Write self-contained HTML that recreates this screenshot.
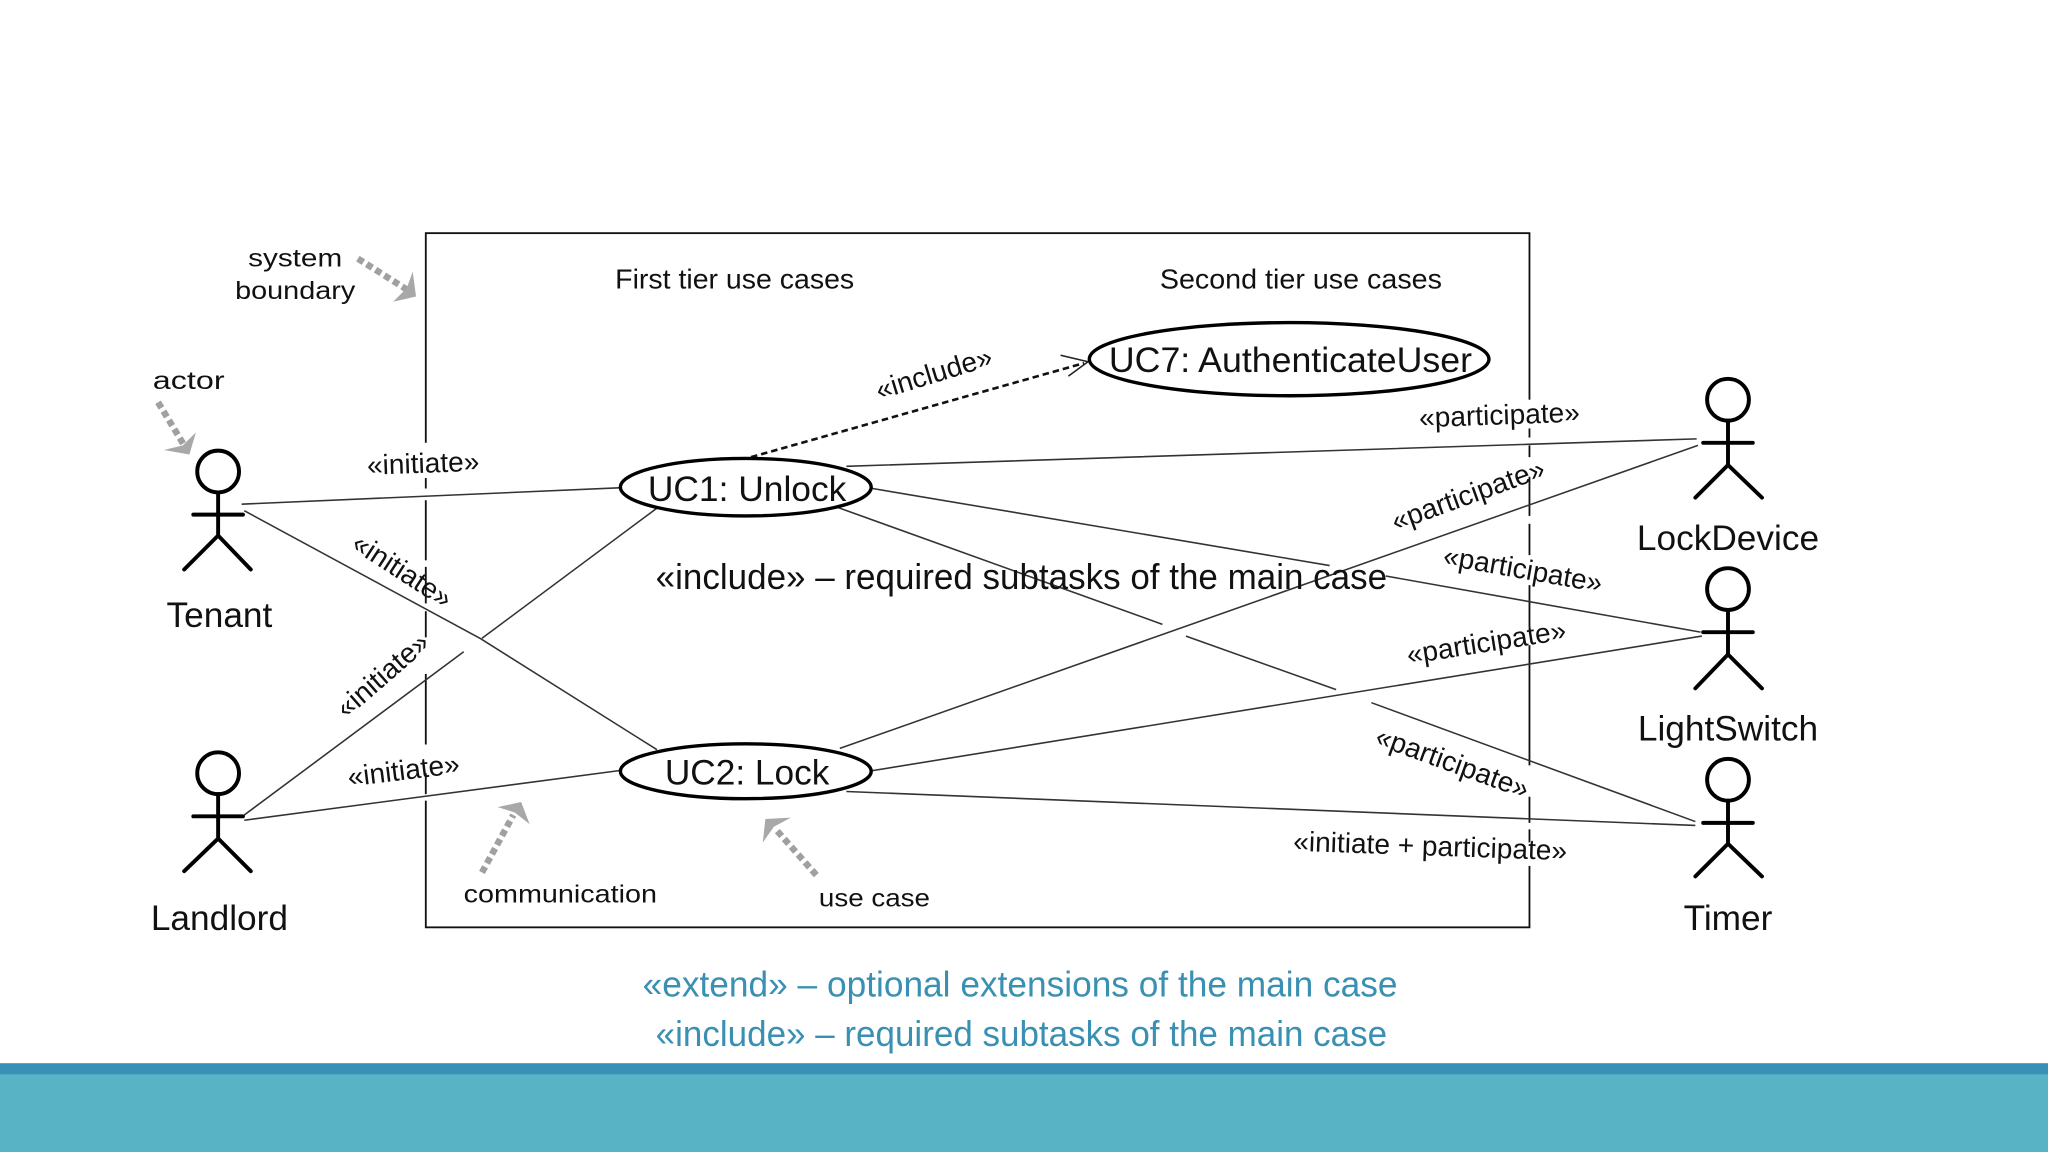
<!DOCTYPE html>
<html><head><meta charset="utf-8"><style>
html,body{margin:0;padding:0;background:#fff;width:2048px;height:1152px;overflow:hidden}
svg{display:block}
text{font-family:"Liberation Sans",sans-serif;fill:#111}
.c{font-family:"DejaVu Sans",sans-serif;font-size:19px;fill:#111}
.l{stroke:#333;stroke-width:1.2;fill:none}
.a{stroke:#000;stroke-width:3;fill:none;stroke-linecap:round}
.n{font-size:27px;text-anchor:middle}
.s{font-size:21.500px}
.g{stroke:#a0a0a0;stroke-width:5;stroke-dasharray:5 3;fill:none}
.h{fill:#a8a8a8;stroke:none}
</style></head><body>
<svg width="2048" height="1152" viewBox="0 0 1568 882" xmlns="http://www.w3.org/2000/svg">
<rect width="1568" height="882" fill="#fff"/>
<rect x="326" y="178.500" width="845" height="531.500" fill="none" stroke="#111" stroke-width="1.400"/>
<g fill="#fff">
<rect x="323" y="339" width="6" height="27"/><rect x="323" y="374" width="6" height="9"/><rect x="323" y="429" width="6" height="5"/><rect x="323" y="462" width="6" height="6"/><rect x="323" y="488" width="6" height="28"/><rect x="323" y="570" width="6" height="22"/><rect x="323" y="608" width="6" height="5"/>
<rect x="1168" y="306" width="6" height="22"/><rect x="1168" y="335" width="6" height="6"/><rect x="1168" y="350" width="6" height="15"/><rect x="1168" y="395" width="6" height="6"/><rect x="1168" y="425" width="6" height="23"/><rect x="1168" y="480" width="6" height="14"/><rect x="1168" y="586" width="6" height="24"/><rect x="1168" y="630" width="6" height="5"/><rect x="1168" y="645" width="6" height="18"/>
</g>
<path class="l" d="M185 386L474 373.500M187 391L368 489L503 574M187 624L355 499M369 488.700L503 389M187 628L474 590"/>
<path class="l" d="M648 357L1299 336M668 374L1018 433M1061 441L1302 484M640 388L890 478M908 487L1023 528M1050 538L1298 629M643 573L1300 341M668 590L1303 487M648 606L1298 632"/>
<path d="M575 350L830 278" stroke="#111" stroke-width="2" stroke-dasharray="5 3" fill="none"/>
<path d="M812 272L833 277L818 288" stroke="#222" stroke-width="1.200" fill="none"/>
<g fill="#fff" stroke="#000" stroke-width="2.600">
<ellipse cx="571" cy="373" rx="96" ry="22"/>
<ellipse cx="571" cy="590.500" rx="96" ry="21"/>
<ellipse cx="987" cy="275" rx="153" ry="28"/>
</g>
<g font-size="27">
<text x="496" y="383.500" textLength="152" lengthAdjust="spacingAndGlyphs">UC1: Unlock</text>
<text x="509" y="600.500" textLength="126" lengthAdjust="spacingAndGlyphs">UC2: Lock</text>
<text x="849" y="285" textLength="278" lengthAdjust="spacingAndGlyphs">UC7: AuthenticateUser</text>
</g>
<text class="n" style="font-size:21px;text-anchor:start" x="471" y="221" textLength="183" lengthAdjust="spacingAndGlyphs">First tier use cases</text>
<text class="n" style="font-size:21px;text-anchor:start" x="888" y="221" textLength="216" lengthAdjust="spacingAndGlyphs">Second tier use cases</text>

<g class="a">
<circle cx="167" cy="361" r="16"/><path d="M167 377V410M148 394H186M141 436L167 410L192 436"/>
<circle cx="167" cy="592" r="16"/><path d="M167 608V642M148 625H186M141 667L167 642L192 667"/>
<circle cx="1323" cy="306" r="16"/><path d="M1323 322V356M1304 339H1342M1298 381L1323 356L1349 381"/>
<circle cx="1323" cy="451" r="16"/><path d="M1323 467V501M1304 484H1342M1298 527L1323 501L1349 527"/>
<circle cx="1323" cy="597" r="16"/><path d="M1323 613V646M1304 630H1342M1298 671L1323 646L1349 671"/>
</g>
<text class="n" x="168" y="480">Tenant</text>
<text class="n" x="168" y="712">Landlord</text>
<text class="n" x="1323" y="421">LockDevice</text>
<text class="n" x="1323" y="567">LightSwitch</text>
<text class="n" x="1323" y="712">Timer</text>

<g class="s">
<text x="324" y="362" text-anchor="middle" transform="rotate(-2 324 355)">«initiate»</text>
<text x="308" y="444" text-anchor="middle" transform="rotate(33 308 437)">«initiate»</text>
<text x="293" y="524" text-anchor="middle" transform="rotate(-41 293 517)">«initiate»</text>
<text x="309" y="597" text-anchor="middle" transform="rotate(-7 309 590)">«initiate»</text>
<text x="715" y="293" text-anchor="middle" transform="rotate(-17 715 286)">«include»</text>
<text x="1148" y="325" text-anchor="middle" transform="rotate(-2 1148 318)">«participate»</text>
<text x="1124" y="386" text-anchor="middle" transform="rotate(-20 1124 379)">«participate»</text>
<text x="1166" y="443" text-anchor="middle" transform="rotate(10 1166 436)">«participate»</text>
<text x="1138" y="499" text-anchor="middle" transform="rotate(-9 1138 492)">«participate»</text>
<text x="1112" y="591" text-anchor="middle" transform="rotate(20 1112 584)">«participate»</text>
<text x="1095" y="655" text-anchor="middle" transform="rotate(2 1095 648)">«initiate + participate»</text>
</g>

<g class="c">
<text x="190" y="204" textLength="72" lengthAdjust="spacingAndGlyphs">system</text>
<text x="180" y="229" textLength="92" lengthAdjust="spacingAndGlyphs">boundary</text>
<text x="117" y="298" textLength="55" lengthAdjust="spacingAndGlyphs">actor</text>
<text x="355" y="691" textLength="148" lengthAdjust="spacingAndGlyphs">communication</text>
<text x="627" y="694" textLength="85" lengthAdjust="spacingAndGlyphs">use case</text>
</g>
<path class="g" d="M274 198L312 222"/><polygon class="h" points="316,208 318.500,227 301,231 311.500,220.500"/>
<path class="g" d="M121 308L141 341"/><polygon class="h" points="150,331 145,348 125.500,344.500 140,341"/>
<path class="g" d="M369 668L393 624"/><polygon class="h" points="381,618 399,614 405.500,631 394,622"/>
<path class="g" d="M625 670L594 635"/><polygon class="h" points="605.500,626 586,627 584,645 592.500,633"/>

<text x="502" y="451" font-size="28" textLength="560" lengthAdjust="spacingAndGlyphs" style="fill:#111">«include» – required subtasks of the main case</text>
<text x="492" y="763" font-size="28" textLength="578" lengthAdjust="spacingAndGlyphs" style="fill:#3a90b2">«extend» – optional extensions of the main case</text>
<text x="502" y="801" font-size="28" textLength="560" lengthAdjust="spacingAndGlyphs" style="fill:#3a90b2">«include» – required subtasks of the main case</text>

<rect x="0" y="814" width="1568" height="9" fill="#3a8fb7"/>
<rect x="0" y="822.500" width="1568" height="60" fill="#58b3c4"/>
</svg>
</body></html>
